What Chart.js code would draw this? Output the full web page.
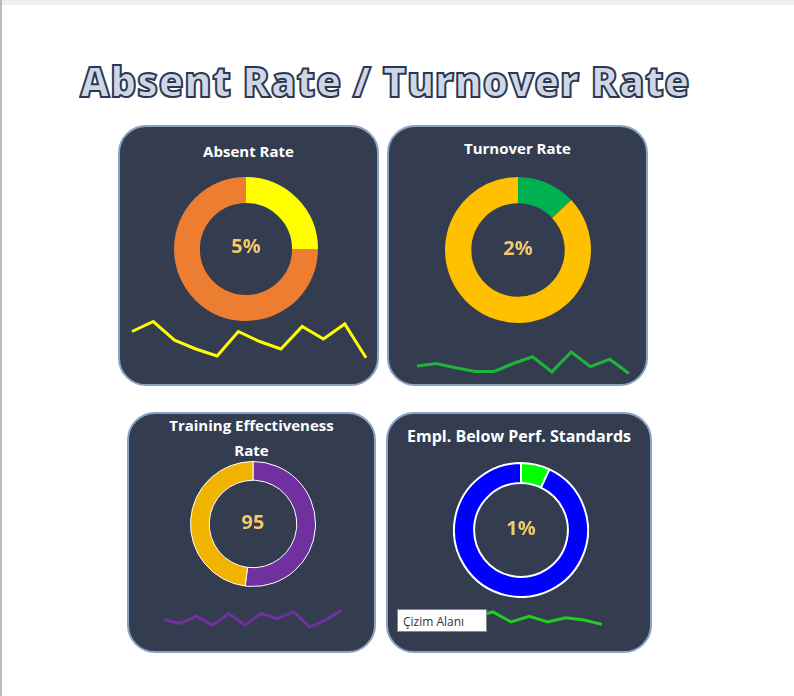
<!DOCTYPE html>
<html><head><meta charset="utf-8">
<script src="https://cdn.jsdelivr.net/npm/chart.js@4"></script>
<style>
body{margin:0;width:794px;height:696px;background:#fff;position:relative;overflow:hidden;font-family:"Open Sans",sans-serif}
#top{position:absolute;left:0;top:0;width:794px;height:5px;background:#eeeeee}
#lft{position:absolute;left:0;top:0;width:2px;height:696px;background:#bbb}
#title{position:absolute;left:80px;top:52px;font-family:"Open Sans";font-weight:800;font-size:42px;color:#cfd7e6;-webkit-text-stroke:2px #2b3853;letter-spacing:0.5px;white-space:nowrap;transform-origin:left top}
.card{position:absolute;background:#333d4f;border:2px solid #8aa3c4;border-radius:28px;box-sizing:border-box}
.t{position:absolute;color:#fff;font-weight:700;font-size:15px;text-align:center;width:100%;line-height:25px}
.c{position:absolute;color:#f2c96a;font-weight:700;font-size:20px;text-align:center}
canvas{position:absolute}
#lab{position:absolute;left:397px;top:609px;width:90px;height:23px;background:#fff;border:1px solid #888;font-size:12px;color:#333;line-height:23px;padding-left:5px;box-sizing:border-box}
</style></head><body>
<div id="top"></div><div id="lft"></div>
<div id="title">Absent Rate / Turnover Rate</div>
<div class="card" style="left:118px;top:125px;width:261px;height:261px"><div class="t" style="top:12px">Absent Rate</div></div>
<div class="card" style="left:387px;top:125px;width:261px;height:261px"><div class="t" style="top:9px">Turnover Rate</div></div>
<div class="card" style="left:127px;top:412px;width:249px;height:241px"><div class="t" style="top:-1px">Training Effectiveness<br>Rate</div></div>
<div class="card" style="left:386px;top:412px;width:266px;height:241px"><div class="t" style="top:10px;font-size:16px">Empl. Below Perf. Standards</div></div>
<canvas id="d1"></canvas><canvas id="d2"></canvas><canvas id="d3"></canvas><canvas id="d4"></canvas>
<canvas id="l1"></canvas><canvas id="l2"></canvas><canvas id="l3"></canvas><canvas id="l4"></canvas>
<div class="c" style="left:206px;top:232px;width:80px">5%</div>
<div class="c" style="left:478px;top:234px;width:80px">2%</div>
<div class="c" style="left:213px;top:508px;width:80px">95</div>
<div class="c" style="left:481px;top:514px;width:80px">1%</div>
<div id="lab">Çizim Alanı</div>
<script>
const absentDonut=[25,75], absentColors=['#ffff00','#ed7d31'];
const turnoverDonut=[13,87], turnoverColors=['#00b050','#ffc000'];
const trainingDonut=[52,48], trainingColors=['#7030a0','#f0b400'];
const emplDonut=[7,93], emplColors=['#00ff00','#0000ff'];
const absentTrend=[130,170,95,60,32,130,90,60,150,100,160,25];
const turnoverTrend=[38,50,30,12,12,50,82,10,105,35,70,2];
const trainingTrend=[90,70,110,60,125,60,125,95,135,50,90,145];
const emplTrend=[60,85,70,95,110,138,75,110,75,102,88,60];
function place(id,x,y,w,h){const c=document.getElementById(id);c.style.left=x+'px';c.style.top=y+'px';c.width=w;c.height=h;c.style.width=w+'px';c.style.height=h+'px';return c;}
function donut(id,cx,cy,r,data,colors,cut,bw){
  const c=place(id,cx-r-2,cy-r-2,2*r+4,2*r+4);
  new Chart(c,{type:'doughnut',data:{labels:data.map((_,i)=>'s'+i),datasets:[{data,backgroundColor:colors,borderWidth:bw,borderColor:'#ffffff'}]},
   options:{responsive:false,animation:false,cutout:cut,plugins:{legend:{display:false},tooltip:{enabled:false}},layout:{padding:0}}});
}
function line(id,x,y,w,h,data,color){
  const c=place(id,x,y,w,h);
  new Chart(c,{type:'line',data:{labels:data.map((_,i)=>i),datasets:[{data,borderColor:color,borderWidth:3,pointRadius:0,tension:0,fill:false}]},
   options:{responsive:false,animation:false,plugins:{legend:{display:false},tooltip:{enabled:false}},scales:{x:{display:false},y:{display:false,min:0}},layout:{padding:2}}});
}
donut('d1',246,249,70,absentDonut,absentColors,'64%',0);
donut('d2',518,250,71,turnoverDonut,turnoverColors,'64%',0);
donut('d3',253,524,61,trainingDonut,trainingColors,'70%',1);
donut('d4',521,530,66,emplDonut,emplColors,'70%',2);
line('l1',130,312,238,54,absentTrend,'#ffff00');
line('l2',415,330,216,46,turnoverTrend,'#22b33a');
line('l3',162,598,182,40,trainingTrend,'#7030a0');
line('l4',400,600,204,36,emplTrend,'#22cc22');
const t=document.getElementById('title');const w=t.getBoundingClientRect().width;t.style.transform='scaleX('+(610/w)+')';
</script></body></html>
